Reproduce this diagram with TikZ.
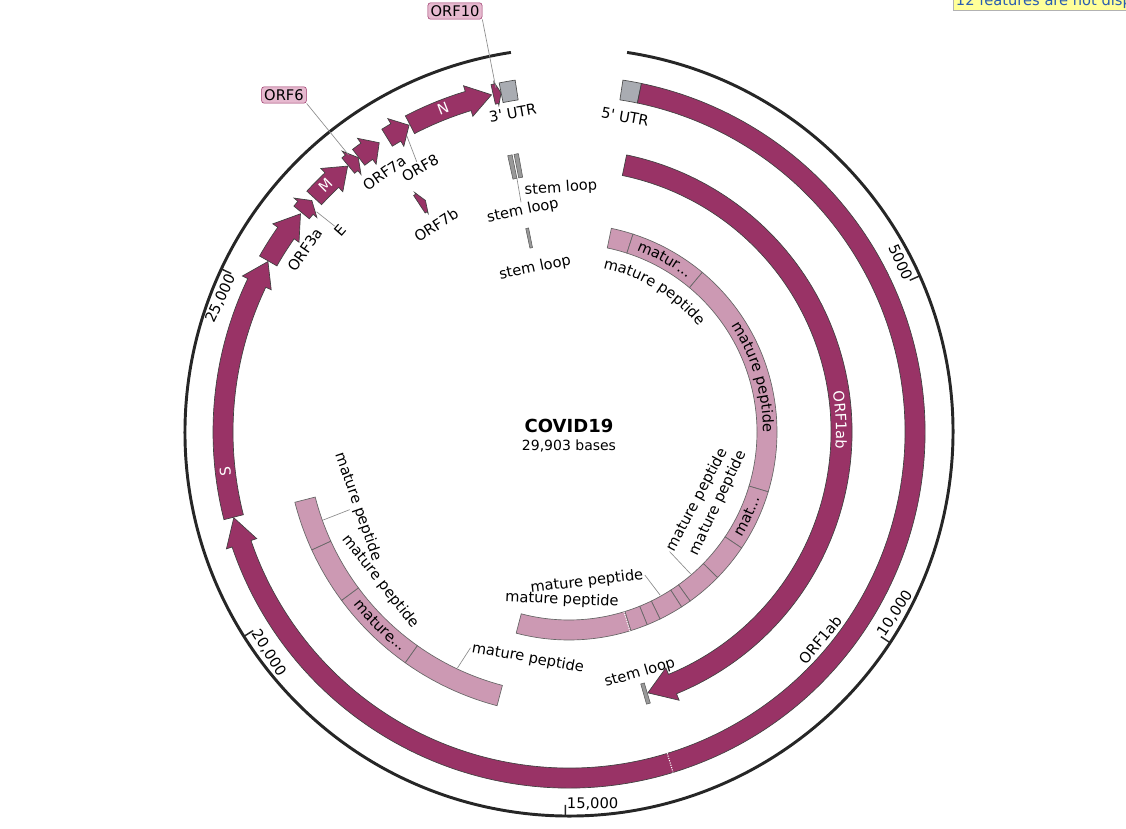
\documentclass[tikz,border=0pt]{standalone}
\usepackage{fontspec}
\setmainfont{DejaVu Sans}
\usetikzlibrary{decorations.text}

\definecolor{featmag}{HTML}{993366}
\definecolor{peptpink}{HTML}{CC99B3}
\definecolor{utrgray}{HTML}{A9ACB2}
\definecolor{calloutpink}{HTML}{E6B9CF}
\definecolor{noteyellow}{HTML}{FFFF99}
\definecolor{noteblue}{HTML}{2A5DB0}

\newcommand{\lbl}{\fontsize{11}{13}\selectfont}

% plain band: start kb, end kb, inner r, outer r, style
\newcommand{\featarc}[5]{%
  \pgfmathsetmacro\phS{81.3-#1*11.457}%
  \pgfmathsetmacro\phE{81.3-#2*11.457}%
  \draw[#5] (\phS:#3) arc[start angle=\phS, end angle=\phE, radius=#3]
    -- (\phE:#4) arc[start angle=\phE, end angle=\phS, radius=#4] -- cycle;}

% band with arrow head: start kb, end kb, inner r, outer r, head (deg), overhang, style
\newcommand{\featarrow}[7]{%
  \pgfmathsetmacro\phS{81.3-#1*11.457}%
  \pgfmathsetmacro\phE{81.3-#2*11.457}%
  \pgfmathsetmacro\phH{\phE+#5}%
  \pgfmathsetmacro\rM{(#3+#4)/2}%
  \pgfmathsetmacro\rI{#3-#6}%
  \pgfmathsetmacro\rO{#4+#6}%
  \draw[#7] (\phS:#3) arc[start angle=\phS, end angle=\phH, radius=#3]
    -- (\phH:\rI) -- (\phE:\rM) -- (\phH:\rO) -- (\phH:#4)
    arc[start angle=\phH, end angle=\phS, radius=#4] -- cycle;}

% text along a circle: from angle, to angle (clockwise from top), radius, text
\newcommand{\arctext}[4]{%
  \pgfmathsetmacro\phA{90-#1}%
  \pgfmathsetmacro\phB{90-#2}%
  \path[decorate, decoration={text along path, text align=center, text={#4}}]
    (\phA:#3) arc[start angle=\phA, end angle=\phB, radius=#3];}

\tikzset{
  feat/.style={fill=featmag, draw=black!75, line width=0.5pt},
  pept/.style={fill=peptpink, draw=black!60, line width=0.5pt},
  utr/.style={fill=utrgray, draw=black!70, line width=0.5pt},
  loopbar/.style={fill=black!40, draw=black!65, line width=0.4pt},
  backbone/.style={draw=black!85, line width=2.2pt},
  tickmark/.style={draw=black!85, line width=1.1pt},
  lab/.style={font=\lbl, inner sep=1pt},
  wlab/.style={font=\lbl, text=white, inner sep=0pt},
  leader/.style={draw=black!45, line width=0.5pt},
  callout/.style={font=\lbl, fill=calloutpink, draw=featmag, rounded corners=2pt, inner sep=2pt},
  frameshift/.style={draw=white, line width=0.8pt, densely dotted},
}

\begin{document}
\begin{tikzpicture}[x=0.75pt, y=0.75pt]
  \useasboundingbox (-569,-396) rectangle (557,432);
  \clip (-569,-396) rectangle (557,432);

  % backbone and scale
  \draw[backbone] (81.3:384) arc[start angle=81.3, end angle=-261.3, radius=384];
  \draw[tickmark] (24.0:373) -- (24.0:384);
  \draw[tickmark] (-33.27:373) -- (-33.27:384);
  \draw[tickmark] (-90.56:373) -- (-90.56:384);
  \draw[tickmark] (-147.84:373) -- (-147.84:384);
  \draw[tickmark] (-205.13:373) -- (-205.13:384);
  \node[lab, anchor=east, rotate=-66.0] (tick5k) at (24.0:372) {5000};
  \node[lab, anchor=west, rotate=56.73] (tick10k) at (-33.27:372) {10,000};
  \node[lab, anchor=west, rotate=-0.56] (tick15k) at (-90.56:372) {15,000};
  \node[lab, anchor=west, rotate=-57.84] (tick20k) at (-147.84:372) {20,000};
  \node[lab, anchor=east, rotate=64.87] (tick25k) at (-205.13:372) {25,000};

  % outer ring: genes
  \featarc{0.001}{0.265}{336}{356}{utr}
  \featarrow{0.266}{21.555}{336}{356}{4.5}{6}{feat}
  \draw[frameshift] (-73.0:336) -- (-73.0:356);
  \featarrow{21.563}{25.384}{336}{356}{4}{6}{feat}
  \featarrow{25.393}{26.220}{336}{356}{4}{6}{feat}
  \featarrow{26.245}{26.472}{336}{356}{1.6}{5}{feat}
  \featarrow{26.523}{27.191}{336}{356}{3.5}{6}{feat}
  \featarrow{27.202}{27.387}{336}{356}{1.4}{5}{feat}
  \featarrow{27.394}{27.759}{336}{356}{2.5}{6}{feat}
  \featarrow{27.894}{28.259}{336}{356}{2.5}{6}{feat}
  \featarrow{28.274}{29.533}{336}{356}{4}{6}{feat}
  \featarrow{29.558}{29.674}{336}{356}{0.8}{2}{feat}
  \featarc{29.675}{29.903}{336}{356}{utr}

  % middle ring
  \featarrow{0.266}{13.483}{262}{283}{5.5}{7}{feat}
  \featarc{13.494}{13.564}{262}{283}{loopbar}
  \featarc{16.237}{18.039}{262}{283}{pept}
  \featarc{18.040}{19.620}{262}{283}{pept}
  \featarc{19.621}{20.658}{262}{283}{pept}
  \featarc{20.659}{21.552}{262}{283}{pept}
  \featarrow{27.756}{27.887}{262}{283}{1}{2}{feat}
  \featarc{29.571}{29.650}{259}{283}{loopbar}
  \featarc{29.685}{29.763}{259}{283}{loopbar}

  % inner ring: mature peptides
  \featarc{0.266}{0.805}{188}{208}{pept}
  \featarc{0.806}{2.719}{188}{208}{pept}
  \featarc{2.720}{8.554}{188}{208}{pept}
  \featarc{8.555}{10.054}{188}{208}{pept}
  \featarc{10.055}{10.972}{188}{208}{pept}
  \featarc{10.973}{11.842}{188}{208}{pept}
  \featarc{11.843}{12.091}{188}{208}{pept}
  \featarc{12.092}{12.685}{188}{208}{pept}
  \featarc{12.686}{13.024}{188}{208}{pept}
  \featarc{13.025}{13.441}{188}{208}{pept}
  \featarc{13.442}{16.236}{188}{208}{pept}
  \draw[frameshift] (-73.0:188) -- (-73.0:208);
  \featarc{29.615}{29.685}{188}{208}{loopbar}

  % labels inside features
  \arctext{17.9}{40.1}{194}{|\lbl|matur...}
  \arctext{40.1}{106.7}{194}{|\lbl|mature peptide}
  \arctext{123.9}{106.7}{202}{|\lbl|mat...}
  \arctext{233.4}{215.3}{276.5}{|\lbl|mature...}
  \arctext{60}{115}{267}{|\lbl\color{white}|ORF1ab}
  \node[wlab, rotate=96.6] (slbl) at (-173.4:346) {S};
  \node[wlab, rotate=44.6] (mlbl) at (134.6:347) {M};
  \node[wlab, rotate=21.3] (nlbl) at (111.3:347) {N};

  % labels beside features
  \arctext{0}{62.6}{167}{|\lbl|mature peptide}
  \node[lab, rotate=-10.1] (utr5lbl) at (79.9:320) {5\textquotesingle{} UTR};
  \node[lab, rotate=10] (utr3lbl) at (100:324) {3\textquotesingle{} UTR};
  \node[lab, rotate=50.4] (orf1ablbl) at (-39.6:326) {ORF1ab};
  \node[lab, rotate=16.4] (sl4lbl) at (-73.6:251) {stem loop};
  \node[lab, rotate=-10.3] (mp13lbl) at (-100.3:230) {mature peptide};
  \node[lab, rotate=6.8] (mp10lbl) at (-83.2:151) {mature peptide};
  \node[lab, rotate=-2.4] (mp11lbl) at (-92.4:168) {mature peptide};
  \node[lab, rotate=62] (mp7lbl) at (-28:145) {mature peptide};
  \node[lab, rotate=64.5] (mp8lbl) at (-25.5:165) {mature peptide};
  \node[lab, rotate=-70.5] (mp16lbl) at (-160.5:224) {mature peptide};
  \node[lab, rotate=-51.6] (mp15lbl) at (-141.6:241) {mature peptide};
  \node[lab, rotate=4] (sl1lbl) at (91.9:244) {stem loop};
  \node[lab, rotate=11.8] (sl2lbl) at (101.8:226) {stem loop};
  \node[lab, rotate=11.7] (sl3lbl) at (101.7:167.5) {stem loop};
  \node[lab, rotate=29.4] (orf8lbl) at (119.4:303) {ORF8};
  \node[lab, rotate=35.5] (orf7albl) at (125.5:318) {ORF7a};
  \node[lab, rotate=48.7] (elbl) at (138.7:305) {E};
  \node[lab, rotate=55.4] (orf3albl) at (145.4:321) {ORF3a};
  \node[lab, rotate=32.7] (orf7blbl) at (122.7:246) {ORF7b};
  \node[callout] (orf10box) at (-114,421) {ORF10};
  \node[callout] (orf6box) at (-285,337) {ORF6};

  % leader lines
  \coordinate (slpt) at (101.6:259);
  \coordinate (orf8pt) at (118.7:338);
  \coordinate (ept) at (138.9:335);
  \coordinate (orf6pt) at (128.5:354);
  \coordinate (orf10pt) at (102:352);
  \coordinate (nsp16pt) at (-160.3:261);
  \coordinate (nsp13pt) at (-115.3:261);
  \coordinate (nsp6pt) at (-49.4:187);
  \coordinate (nsp9pt) at (-60.8:187);
  \draw[leader] (slpt) -- (sl2lbl.north);
  \draw[leader] (orf8pt) -- (orf8lbl.north);
  \draw[leader] (ept) -- (elbl.north);
  \draw[leader] (orf6box.south east) -- (orf6pt);
  \draw[leader] (orf10box.south east) -- (orf10pt);
  \draw[leader] (nsp16pt) -- (mp16lbl.south);
  \draw[leader] (nsp13pt) -- (mp13lbl.west);
  \draw[leader] (nsp6pt) -- (mp7lbl.west);
  \draw[leader] (nsp9pt) -- (mp10lbl.east);

  % centre
  \node[font=\bfseries\fontsize{13.5}{15}\selectfont] (mapname) at (0,6) {COVID19};
  \node[font=\fontsize{10.5}{12}\selectfont] (maplen) at (0,-14) {29,903 bases};

  \node[anchor=south west, fill=noteyellow, draw=black!30, text=noteblue, font=\lbl, inner sep=2pt] (hiddennote) at (384,421) {12 features are not displayed};
\end{tikzpicture}
\end{document}
